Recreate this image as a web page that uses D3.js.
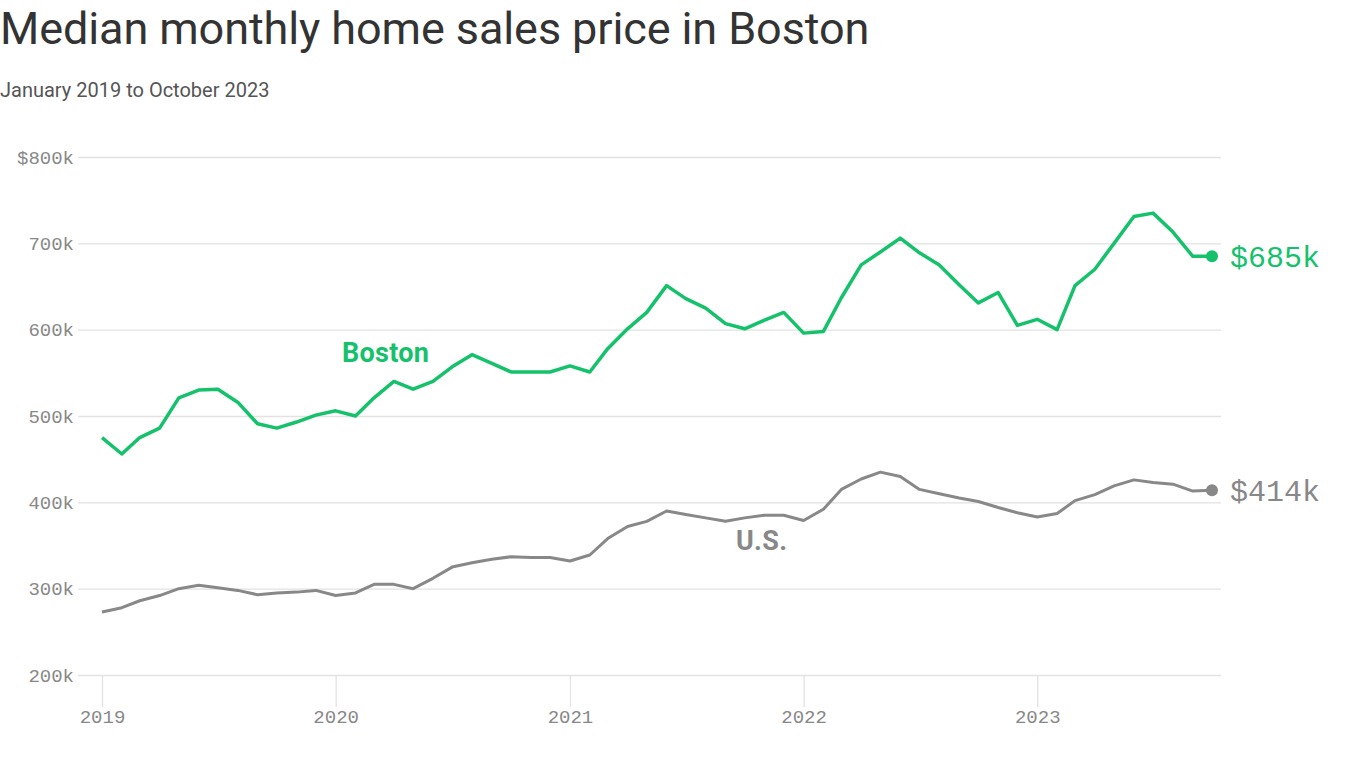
<!DOCTYPE html>
<html>
<head>
<meta charset="utf-8">
<script src="https://cdn.jsdelivr.net/npm/d3@7"></script>
<style>
  body { margin: 0; background: #fff; }
  svg { display: block; }
</style>
</head>
<body>
<svg id="chart"></svg>
<script>
// Chart data: monthly medians in thousands of dollars, Jan 2019 to Oct 2023
const startMonth = new Date(2019, 0, 1);
const bostonValues = [
  475, 456, 475, 486, 521, 530, 531, 516, 491, 486, 493, 501,
  506, 500, 521, 540, 531, 540, 557, 571, 561, 551, 551, 551,
  558, 551, 578, 601, 620, 651, 636, 625, 607, 601, 611, 620,
  596, 598, 637, 675, 690, 706, 689, 675, 652, 631, 643, 605,
  612, 600, 651, 670, 700, 731, 735, 713, 685, 685
];
const usValues = [
  273, 278, 286, 292, 300, 304, 301, 298, 293, 295, 296, 298,
  292, 295, 305, 305, 300, 312, 325, 330, 334, 337, 336, 336,
  332, 339, 358, 372, 378, 390, 386, 382, 378, 382, 385, 385,
  379, 392, 415, 427, 435, 430, 415, 410, 405, 401, 394, 388,
  383, 387, 402, 409, 419, 426, 423, 421, 413, 414
];
const yTicks = [200, 300, 400, 500, 600, 700, 800];
const xTickYears = [2019, 2020, 2021, 2022, 2023];

const width = 1366;
const height = 768;
const green = "#15c26b";
const gray = "#888888";

const svg = d3.select("#chart")
    .attr("width", width)
    .attr("height", height);

const sansFont = "Roboto, 'Liberation Sans', sans-serif";
const monoFont = "'Liberation Mono', 'DejaVu Sans Mono', monospace";

// Title and subtitle
svg.append("text")
    .attr("x", 0)
    .attr("y", 44)
    .style("font-family", sansFont)
    .style("font-size", "45px")
    .style("letter-spacing", "-0.1px")
    .style("fill", "#333")
    .text("Median monthly home sales price in Boston");

svg.append("text")
    .attr("x", 0)
    .attr("y", 97)
    .style("font-family", sansFont)
    .style("font-size", "20px")
    .style("fill", "#555")
    .text("January 2019 to October 2023");

// Build rows from the arrays
const rows = bostonValues.map((v, i) => ({
  date: d3.timeMonth.offset(startMonth, i),
  boston: v,
  us: usValues[i]
}));

// Scales
const x = d3.scaleTime()
    .domain([startMonth, d3.timeMonth.offset(startMonth, rows.length - 1)])
    .range([102, 1212]);
const y = d3.scaleLinear()
    .domain([200, 800])
    .range([675, 157]);

// Y gridlines and labels
const yAxis = d3.axisLeft(y)
    .tickValues(yTicks)
    .tickSize(-(1221 - 78))
    .tickPadding(4)
    .tickFormat(d => d === 800 ? `$${d}k` : `${d}k`);

const yG = svg.append("g")
    .attr("transform", "translate(78,0)")
    .call(yAxis);
yG.select(".domain").remove();
yG.selectAll(".tick line").attr("stroke", "#e2e2e2").attr("stroke-width", 1.3);
yG.selectAll(".tick text")
    .style("font-family", monoFont)
    .style("font-size", "19px")
    .style("fill", gray);

// X ticks and year labels
const xAxis = d3.axisBottom(x)
    .tickValues(xTickYears.map(yr => new Date(yr, 0, 1)))
    .tickSize(32)
    .tickPadding(3)
    .tickFormat(d3.timeFormat("%Y"));

const xG = svg.append("g")
    .attr("transform", "translate(0,675)")
    .call(xAxis);
xG.select(".domain").remove();
xG.selectAll(".tick line").attr("stroke", "#e2e2e2").attr("stroke-width", 1.3);
xG.selectAll(".tick text")
    .style("font-family", monoFont)
    .style("font-size", "19px")
    .style("fill", gray);

// Lines
const bostonLine = d3.line().x(d => x(d.date)).y(d => y(d.boston));
const usLine = d3.line().x(d => x(d.date)).y(d => y(d.us));

svg.append("path")
    .datum(rows)
    .attr("fill", "none")
    .attr("stroke", gray)
    .attr("stroke-width", 3)
    .attr("stroke-linejoin", "round")
    .attr("d", usLine);

svg.append("path")
    .datum(rows)
    .attr("fill", "none")
    .attr("stroke", green)
    .attr("stroke-width", 3.5)
    .attr("stroke-linejoin", "round")
    .attr("d", bostonLine);

// End dots and value labels
const last = rows[rows.length - 1];
[
  { key: "boston", color: green },
  { key: "us", color: gray }
].forEach(s => {
  svg.append("circle")
      .attr("cx", x(last.date))
      .attr("cy", y(last[s.key]))
      .attr("r", 6)
      .attr("fill", s.color);
  svg.append("text")
      .attr("x", x(last.date) + 18)
      .attr("y", y(last[s.key]))
      .attr("dy", "0.35em")
      .style("font-family", monoFont)
      .style("font-size", "30px")
      .style("fill", s.color)
      .text(`$${last[s.key]}k`);
});

// Series labels
svg.append("text")
    .attr("x", 342)
    .attr("y", 362)
    .style("font-family", sansFont)
    .style("font-weight", "bold")
    .style("font-size", "27px")
    .style("letter-spacing", "0.3px")
    .style("fill", green)
    .text("Boston");

svg.append("text")
    .attr("x", 736)
    .attr("y", 550)
    .style("font-family", sansFont)
    .style("font-weight", "bold")
    .style("font-size", "27px")
    .style("letter-spacing", "0.3px")
    .style("fill", gray)
    .text("U.S.");
</script>
</body>
</html>
